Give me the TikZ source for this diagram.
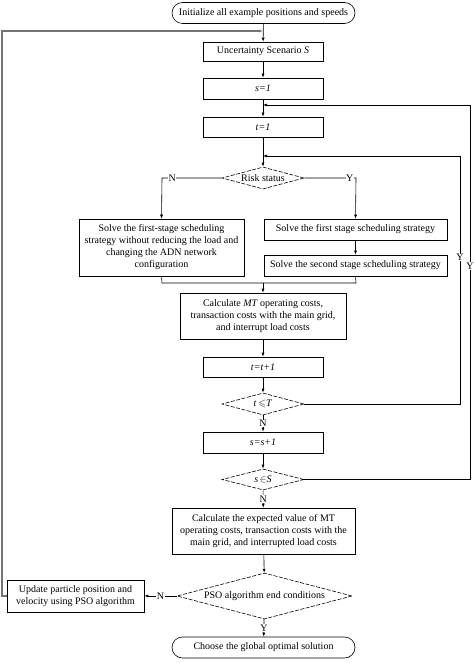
\documentclass[tikz,border=0pt]{standalone}
\usepackage{fontspec}
\usepackage{amssymb}
\setmainfont{Liberation Serif}
\usetikzlibrary{shapes.geometric,shapes.misc,arrows.meta}
\tikzset{
  box/.style={draw, rectangle, align=center, inner sep=0pt},
  term/.style={draw, rounded rectangle, align=center, inner sep=0pt},
  cond/.style={draw, diamond, dash pattern=on 4pt off 1.5pt, shape aspect=3.7, inner sep=0pt},
  flow/.style={-{Latex[length=4pt,width=3pt]}},
  lbl/.style={fill=white, inner sep=0.5pt}
}
\begin{document}
\begin{tikzpicture}[x=1pt, y=-1pt, font=\fontsize{10}{12}\selectfont, line width=0.6pt]
\useasboundingbox (0,0) rectangle (474,663);

\node[term, minimum width=183pt, minimum height=21pt] (init) at (263.5,13) {Initialize all example positions and speeds};
\node[box, minimum width=120pt, minimum height=19pt] (unc) at (263,51.5) {Uncertainty Scenario \textit{S}};
\node[box, minimum width=120pt, minimum height=21pt] (s1) at (263,88.5) {\textit{s=1}};
\node[box, minimum width=120pt, minimum height=20pt] (t1) at (263,127) {\textit{t=1}};
\node[cond, minimum width=82pt, minimum height=22pt] (risk) at (263,178) {Risk status};

\node[box, minimum width=165pt, minimum height=57pt] (nored) at (161.5,247.5) {Solve the first-stage scheduling\\strategy without reducing the load and\\changing the ADN network\\configuration};
\node[box, minimum width=183pt, minimum height=21pt] (first) at (355.5,229.5) {Solve the first stage scheduling strategy};
\node[box, minimum width=183pt, minimum height=21pt] (second) at (355.5,265.5) {Solve the second stage scheduling strategy};

\node[box, minimum width=166pt, minimum height=46pt] (cost) at (263,316) {Calculate \textit{MT} operating costs,\\transaction costs with the main grid,\\and interrupt load costs};
\node[box, minimum width=120pt, minimum height=20pt] (tinc) at (263,367) {\textit{t=t+1}};
\node[cond, minimum width=82pt, minimum height=22pt] (tcond) at (263,404) {\textit{t}\,$\leqslant$\textit{T}};
\node[box, minimum width=120pt, minimum height=21pt] (sinc) at (263,442.5) {\textit{s=s+1}};
\node[cond, minimum width=82pt, minimum height=21pt] (scond) at (263,479.5) {\textit{s}\,$\in$\textit{S}};

\node[box, minimum width=183pt, minimum height=46pt] (expect) at (263.5,531) {Calculate the expected value of MT\\operating costs, transaction costs with the\\main grid, and interrupted load costs};
\node[cond, minimum width=175pt, minimum height=46pt] (pso) at (264.5,596) {PSO algorithm end conditions};
\node[box, minimum width=137pt, minimum height=32pt] (update) at (75.5,596) {Update particle position and\\velocity using PSO algorithm};
\node[term, minimum width=183pt, minimum height=21pt] (final) at (263.5,647.5) {Choose the global optimal solution};

\coordinate (jinit) at (263,31);
\coordinate (jscen) at (263,105);
\coordinate (jtime) at (263,156);
\coordinate (jmerge) at (263,283);

\draw[flow] (init) -- (unc);
\draw[flow] (unc) -- (s1);
\draw[flow] (s1) -- (t1);
\draw[flow] (t1) -- (risk);
\draw[flow] (risk.west) -- node[lbl, pos=0.83]{N} (162,178) -- (nored.north);
\draw[flow] (risk.east) -- node[lbl, pos=0.88]{Y} (356,178) -- (first.north);
\draw[flow] (first) -- (second);
\draw (nored.south) -- (162,283) -- (356,283) -- (second.south);
\draw[flow] (jmerge) -- (cost);
\draw[flow] (cost) -- (tinc);
\draw[flow] (tinc) -- (tcond);
\draw[flow] (tcond) -- node[lbl]{N} (sinc);
\draw[flow] (tcond.east) -- (460,404) -- node[lbl, pos=0.59]{Y} (460,156) -- (jtime);
\draw[flow] (sinc) -- (scond);
\draw[flow] (scond.east) -- (470,479.5) -- node[lbl, pos=0.57]{Y} (470,105) -- (jscen);
\draw[flow] (scond) -- node[lbl]{N} (expect);
\draw[flow] (expect) -- (pso);
\draw[flow] (pso.west) -- node[lbl]{N} (update);
\draw[flow] (pso) -- node[lbl]{Y} (final);
\draw[flow, black!55, line width=1.2pt] (update.west) -- (2,596) -- (2,31) -- (jinit);
\end{tikzpicture}
\end{document}
